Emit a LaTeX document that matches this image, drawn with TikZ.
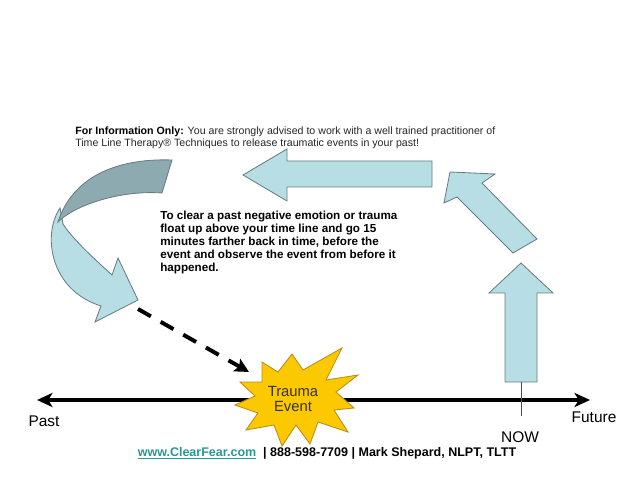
\documentclass[tikz,border=0pt]{standalone}
\usepackage{fontspec}
\setmainfont{Liberation Sans}
\usetikzlibrary{arrows.meta}
\definecolor{arrowfill}{RGB}{183,222,228}
\definecolor{bandfill}{RGB}{140,170,176}
\definecolor{arrowline}{RGB}{105,125,128}
\definecolor{burstfill}{RGB}{252,200,0}
\definecolor{burstline}{RGB}{185,140,30}
\definecolor{linkcol}{RGB}{40,150,150}

\begin{document}
\begin{tikzpicture}[x=0.025cm, y=-0.025cm,
  blockarrow/.style={fill=arrowfill, draw=arrowline, line width=0.6pt, line join=miter},
  biglabel/.style={inner sep=0pt, font=\fontsize{11}{13}\selectfont}]
      \useasboundingbox (0,0) rectangle (638,478);

      % notice on top
      \node[anchor=north west, inner sep=0pt, align=left, text=black!85, font=\fontsize{7.55}{8.5}\selectfont] (notice) at (75,127)
        {\textbf{\color{black}For Information Only:} You are strongly advised to work with a well trained practitioner of\\Time Line Therapy® Techniques to release traumatic events in your past!};

      % curved arrow, front then back band
      \draw[blockarrow] (60,208) .. controls (42,235) and (50,290) .. (101,306) -- (95,322) -- (138,300) -- (118,258) -- (112,275)
        .. controls (90,255) and (72,238) .. (63,224) -- cycle;
      \draw[blockarrow, fill=bandfill] (172,160) .. controls (115,158) and (72,178) .. (58,222)
        .. controls (75,205) and (120,190) .. (162,193) -- cycle;

      % block arrows round the loop
      \draw[blockarrow] (432,161) -- (287,161) -- (287,149) -- (243,175) -- (287,201) -- (287,187) -- (432,187) -- cycle;
      \draw[blockarrow] (537,239) -- (482,183) -- (495,174) -- (450,172) -- (444,203) -- (457,197) -- (513,253) -- cycle;
      \draw[blockarrow] (505,382) -- (505,293) -- (489,293) -- (521,263) -- (553,293) -- (537,293) -- (537,382) -- cycle;

      \node[anchor=north west, inner sep=0pt, align=left, font=\bfseries\fontsize{8.3}{9.2}\selectfont] (advice) at (160,211)
        {To clear a past negative emotion or trauma\\float up above your time line and go 15\\minutes farther back in time, before the\\event and observe the event from before it\\happened.};

      % time line
      \coordinate (past) at (37,400);
      \coordinate (future) at (590,400);
      \draw[line width=2.8pt, {Stealth[length=11pt,width=10pt,inset=3pt]}-{Stealth[length=11pt,width=10pt,inset=3pt]}] (past) -- (future);
      \coordinate (nowtop) at (521,382);
      \coordinate (nowbot) at (521,416);
      \draw[line width=0.5pt, black!70] (nowtop) -- (nowbot);

      % dashed arrow down to the event
      \coordinate (floatend) at (138,309);
      \coordinate (eventin) at (249,372);
      \draw[line width=2.8pt, dash pattern=on 10.5pt off 8pt, -{Stealth[length=10pt,width=10pt,inset=2pt]}] (floatend) -- (eventin);

      % the event
      \draw[fill=burstfill, draw=burstline, line width=0.6pt, line join=miter]
        (262,362) -- (278,372) -- (292,354) -- (303,370) -- (342,348) -- (326,380) -- (358,375) -- (336,392)
        -- (354,408) -- (334,410) -- (348,432) -- (318,422) -- (310,444) -- (296,425) -- (282,446) -- (274,425)
        -- (246,430) -- (258,413) -- (235,405) -- (255,396) -- (240,382) -- (262,382) -- cycle;
      \node[align=center, inner sep=0pt, text=black!80, font=\fontsize{10.5}{11}\selectfont] (trauma) at (293,399) {Trauma\\Event};

      \node[biglabel] (pastlbl) at (44,421) {Past};
      \node[biglabel] (futurelbl) at (594,417) {Future};
      \node[biglabel] (nowlbl) at (520,437) {NOW};

      \node[inner sep=0pt, font=\bfseries\fontsize{8.9}{10}\selectfont] (contact) at (327,453)
        {\textcolor{linkcol}{\underline{www.ClearFear.com}}\ \ | 888-598-7709 | Mark Shepard, NLPT, TLTT};
\end{tikzpicture}
\end{document}
